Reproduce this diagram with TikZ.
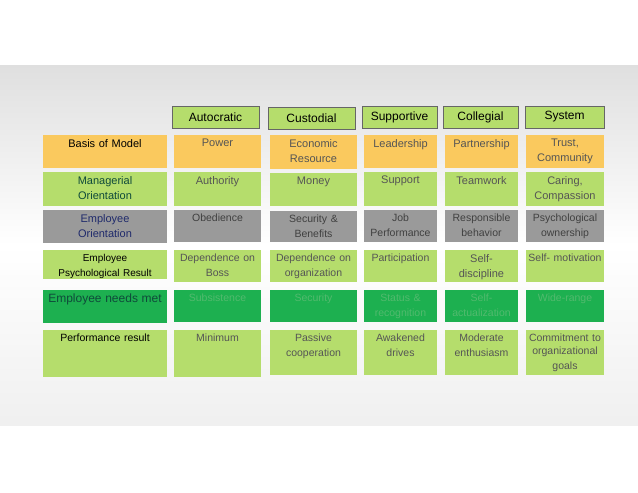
\documentclass[tikz,border=0pt]{standalone}
\usepackage{fontspec}
\setmainfont{Liberation Sans}
\definecolor{org}{HTML}{FAC95E}
\definecolor{lgr}{HTML}{B5DD6C}
\definecolor{gry}{HTML}{9A9A9A}
\definecolor{dgr}{HTML}{1DB050}
\definecolor{txg}{HTML}{555555}
\definecolor{txb}{HTML}{1F2A6B}
\definecolor{txt}{HTML}{0F4A3A}
\definecolor{txf}{HTML}{52BA6E}
\newcommand\sm{\fontsize{10.5}{14}\selectfont}
\tikzset{celltext/.style={anchor=north,align=center,font=\fontsize{11}{15}\selectfont,inner sep=0pt},
hdr/.style={draw=gray!80!black,fill=lgr,line width=0.8pt,font=\fontsize{12}{14}\selectfont,inner sep=0pt}}
\newcommand\cell[8]{\fill[#5] (#1,#3) rectangle (#2,#4);
\node[celltext,text=#6,text width=#2-#1-2] (#8) at ({(#1+#2)/2},#3+4) {#7};}
\begin{document}
\begin{tikzpicture}[x=1pt,y=-1pt]
\useasboundingbox (0,0) rectangle (638,493);
\fill[white] (0,0) rectangle (638,493);
\shade[top color=gray!25,bottom color=gray!12,middle color=white] (0,65) rectangle (638,425);
% headers
\node[hdr,minimum width=87,minimum height=22] (h1) at (215.5,117) {Autocratic};
\node[hdr,minimum width=87,minimum height=22] (h2) at (311.5,118) {Custodial};
\node[hdr,minimum width=75,minimum height=22] (h3) at (399.5,117) {Supportive};
\node[hdr,minimum width=75,minimum height=22] (h4) at (480.5,117) {Collegial};
\node[hdr,minimum width=79,minimum height=22] (h5) at (564.5,117) {System};
% row1
\cell{43}{167}{135}{168}{org}{black}{Basis of Model}{r1c0}
\cell{174}{261}{135}{168}{org}{txg}{Power}{r1c1}
\cell{270}{357}{135}{169}{org}{txg}{Economic\\Resource}{r1c2}
\cell{364}{437}{135}{168}{org}{txg}{Leadership}{r1c3}
\cell{445}{518}{135}{168}{org}{txg}{Partnership}{r1c4}
\cell{526}{604}{135}{168}{org}{txg}{Trust,\\Community}{r1c5}
% row2
\cell{43}{167}{172}{206}{lgr}{txt}{Managerial\\Orientation}{r2c0}
\cell{174}{261}{172}{206}{lgr}{txg}{Authority}{r2c1}
\cell{270}{357}{173}{206}{lgr}{txg}{Money}{r2c2}
\cell{364}{437}{172}{206}{lgr}{txg}{Support}{r2c3}
\cell{445}{518}{172}{206}{lgr}{txg}{Teamwork}{r2c4}
\cell{526}{604}{172}{206}{lgr}{txg}{Caring,\\Compassion}{r2c5}
% row3
\cell{43}{167}{210}{243}{gry}{txb}{Employee\\Orientation}{r3c0}
\cell{174}{261}{210}{242}{gry}{black!75}{\sm Obedience}{r3c1}
\cell{270}{357}{211}{242}{gry}{black!75}{\sm Security \&\\Benefits}{r3c2}
\cell{364}{437}{210}{242}{gry}{black!75}{\sm Job\\Performance}{r3c3}
\cell{445}{518}{210}{242}{gry}{black!75}{\sm Responsible\\behavior}{r3c4}
\cell{526}{604}{210}{242}{gry}{black!75}{\sm Psychological\\ownership}{r3c5}
% row4
\cell{43}{167}{250}{279}{lgr}{black}{\fontsize{10}{13}\selectfont Employee\\Psychological Result}{r4c0}
\cell{174}{261}{250}{282}{lgr}{txg}{\sm Dependence on\\Boss}{r4c1}
\cell{270}{357}{250}{282}{lgr}{txg}{\sm Dependence on\\organization}{r4c2}
\cell{364}{437}{250}{282}{lgr}{txg}{\sm Participation}{r4c3}
\cell{445}{518}{250}{282}{lgr}{txg}{Self-\\discipline}{r4c4}
\cell{526}{604}{250}{282}{lgr}{txg}{\sm Self- motivation}{r4c5}
% row5
\cell{43}{167}{290}{323}{dgr}{txt}{\fontsize{12}{14}\selectfont Employee needs met}{r5c0}
\cell{174}{261}{290}{322}{dgr}{txf}{\sm Subsistence}{r5c1}
\cell{270}{357}{290}{322}{dgr}{txf}{\sm Security}{r5c2}
\cell{364}{437}{290}{322}{dgr}{txf}{\sm Status \&\\recognition}{r5c3}
\cell{445}{518}{290}{322}{dgr}{txf}{\sm Self-\\actualization}{r5c4}
\cell{526}{604}{290}{322}{dgr}{txf}{\sm Wide-range}{r5c5}
% row6
\cell{43}{167}{330}{377}{lgr}{black}{\sm Performance result}{r6c0}
\cell{174}{261}{330}{377}{lgr}{txg}{\sm Minimum}{r6c1}
\cell{270}{357}{330}{375}{lgr}{txg}{\fontsize{10.5}{13.5}\selectfont Passive\\cooperation}{r6c2}
\cell{364}{437}{330}{375}{lgr}{txg}{\fontsize{10.5}{13.5}\selectfont Awakened\\drives}{r6c3}
\cell{445}{518}{330}{375}{lgr}{txg}{\fontsize{10.5}{13.5}\selectfont Moderate\\enthusiasm}{r6c4}
\cell{526}{604}{330}{375}{lgr}{txg}{\fontsize{10.5}{13}\selectfont Commitment to\\organizational\\goals}{r6c5}
\end{tikzpicture}
\end{document}
